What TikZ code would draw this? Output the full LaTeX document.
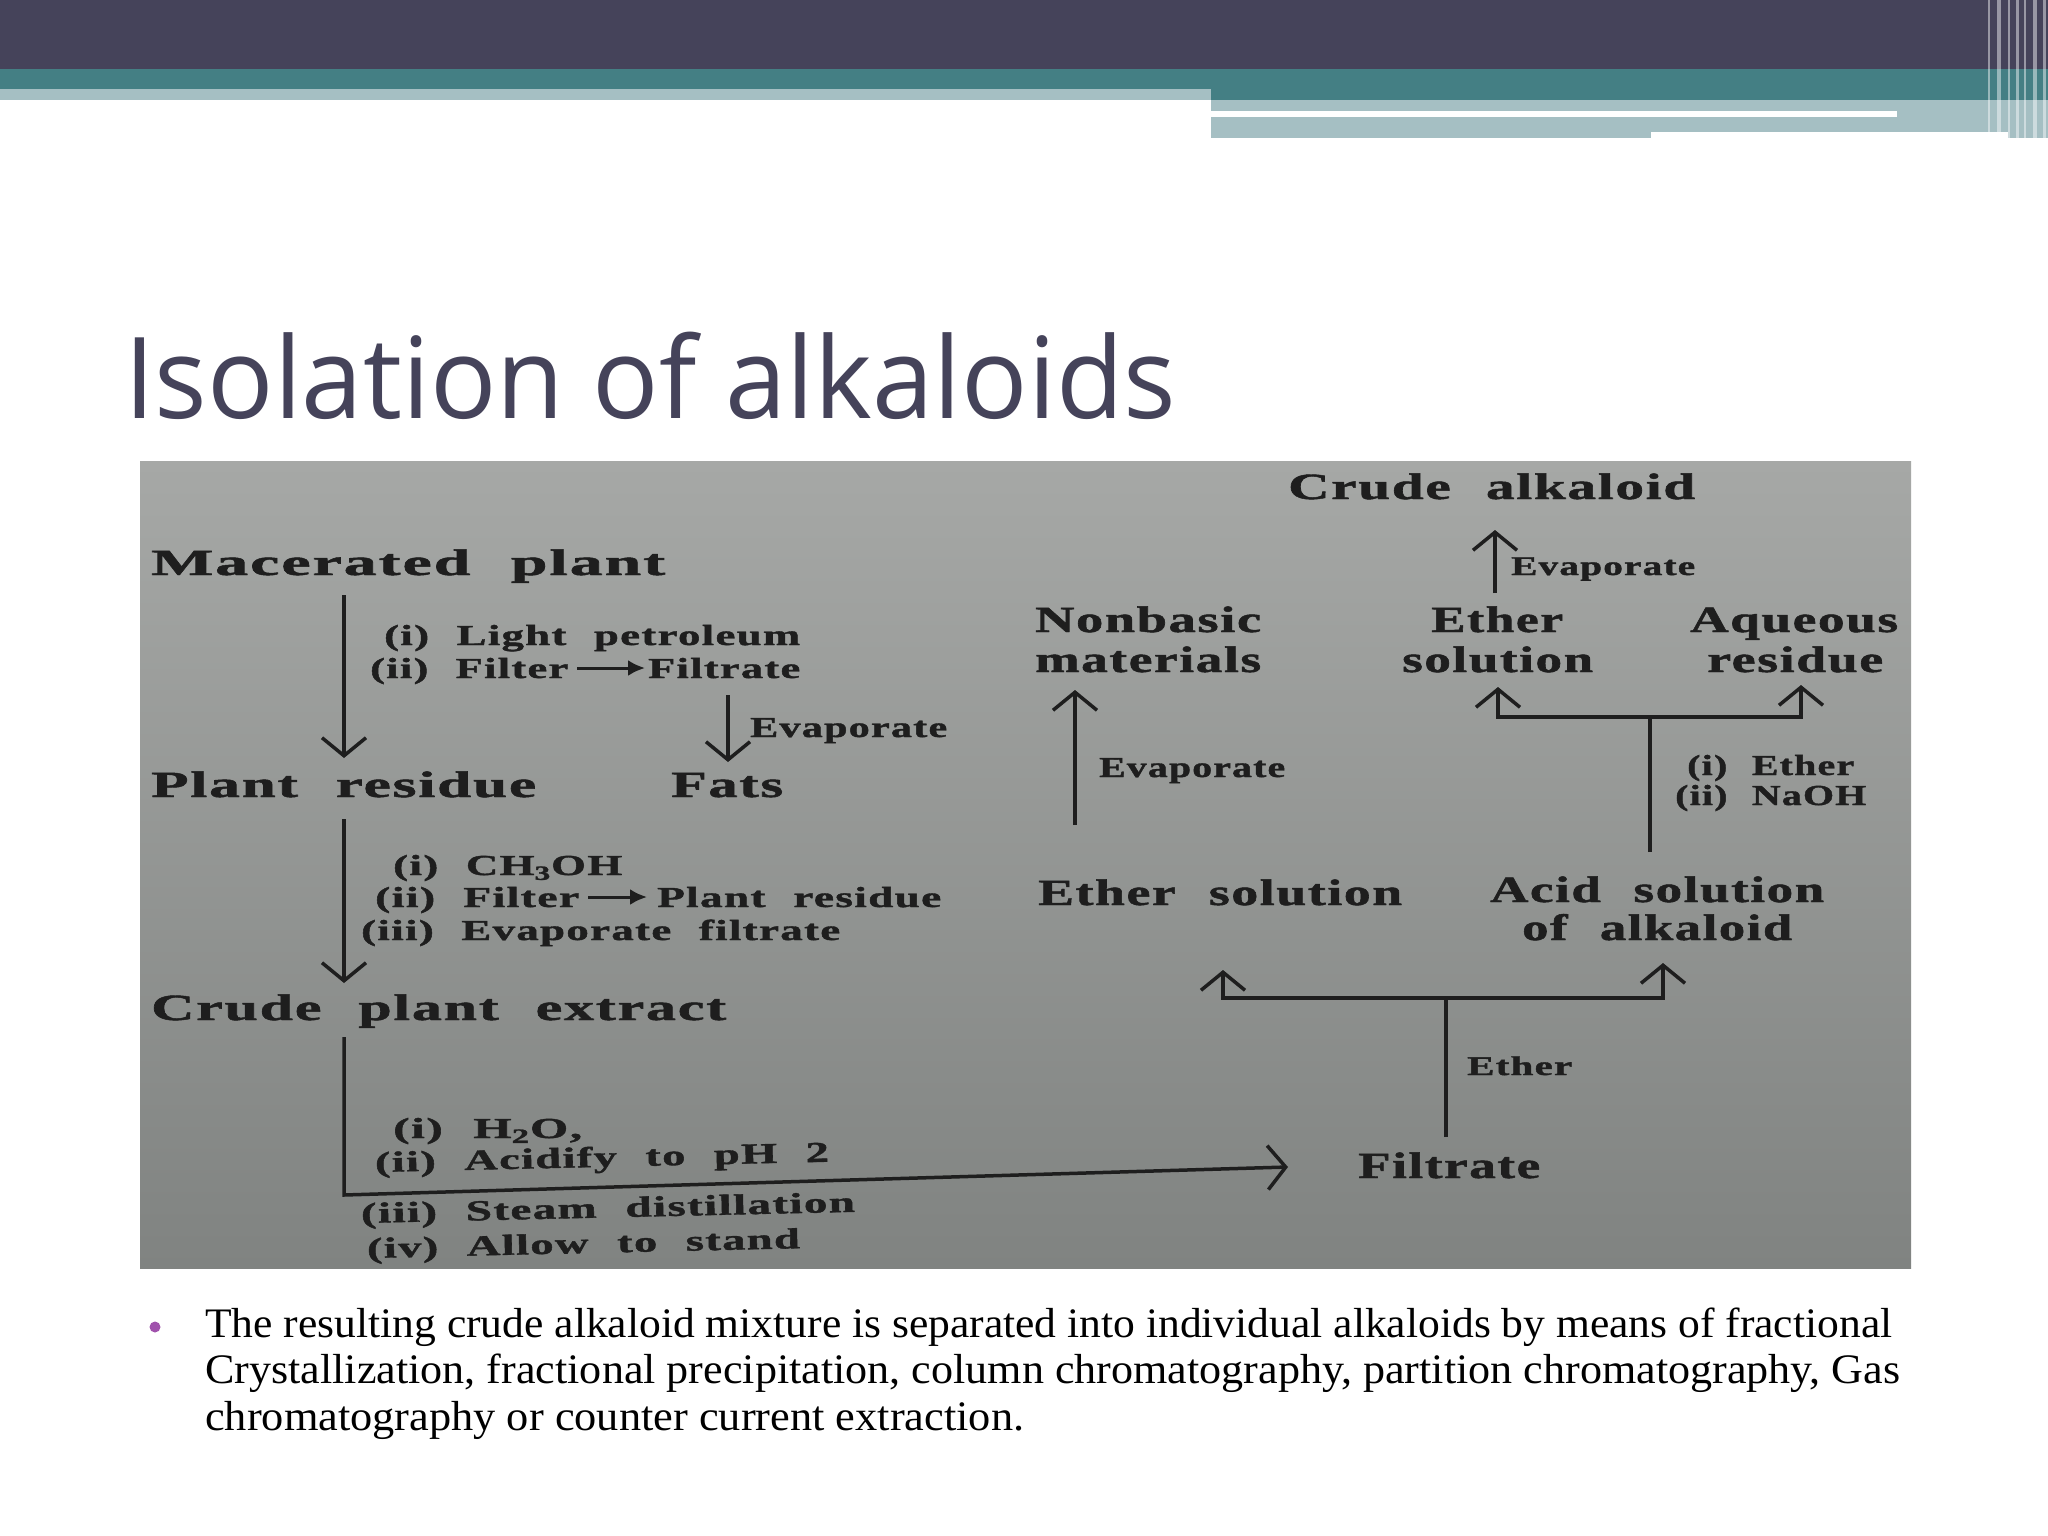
\documentclass[tikz,border=0pt]{standalone}
\usepackage{fontspec}
\usepackage{graphicx}
\usetikzlibrary{arrows.meta,calc}
\setmainfont{Liberation Serif}
\newfontfamily\titlefont{Open Sans}
\newfontfamily\printfont[LetterSpace=3,WordSpace=2.2,Ligatures=NoCommon,BoldFeatures={FakeBold=1.2}]{Liberation Serif}
\newcommand\fitw[2]{\resizebox{#1pt}{\height}{#2}}
\definecolor{hdark}{RGB}{69,67,90}
\definecolor{hteal}{RGB}{68,127,132}
\definecolor{hlight}{RGB}{165,191,195}
\definecolor{ink}{RGB}{30,30,30}
\definecolor{bulletc}{RGB}{160,82,172}
\definecolor{phototop}{RGB}{166,168,166}
\definecolor{photobot}{RGB}{128,131,129}
\tikzset{
  big/.style={anchor=base west, inner sep=0pt, text=ink, font=\printfont\bfseries\fontsize{37}{40}\selectfont},
  small/.style={anchor=base west, inner sep=0pt, text=ink, font=\printfont\bfseries\fontsize{29}{32}\selectfont},
  tiny/.style={anchor=base west, inner sep=0pt, text=ink, font=\printfont\bfseries\fontsize{27}{30}\selectfont},
  conn/.style={draw=ink, line width=3.5pt},
  arr/.style={conn, -{Straight Barb[length=18pt,width=44pt]}},
  sarr/.style={draw=ink, line width=3pt, -{Latex[length=17pt,width=16pt]}},
  body/.style={anchor=base west, inner sep=0pt, text=black, font=\fontsize{42}{47}\selectfont},
}
\begin{document}
\begin{tikzpicture}[x=1pt,y=-1pt]
\useasboundingbox (0,0) rectangle (2048,1536);
\fill[white] (0,0) rectangle (2048,1536);
% header bands
\fill[hdark] (0,0) rectangle (2048,69);
\fill[hteal] (0,69) rectangle (2048,100);
\fill[hlight] (0,89) rectangle (1211,100);
\fill[hlight] (1211,100) rectangle (2048,138);
\fill[white] (1211,111) rectangle (1897,117);
\fill[white] (1651,132) rectangle (2008,138);
\foreach \sx/\sw in {1988/2,1997/4,2008/2,2016/3,2024/2,2033/4,2043/3}
  \fill[white,opacity=0.45] (\sx,0) rectangle (\sx+\sw,138);
% title
\node[anchor=base west, inner sep=0pt, text=hdark, font=\titlefont\fontsize{113}{130}\selectfont] (title) at (124,418) {\fitw{1052}{Isolation of alkaloids}};
% photo background
\shade[top color=phototop, bottom color=photobot] (140,461) rectangle (1911,1268);
% big labels
\node[big] (crude) at (1288,499) {\fitw{407}{Crude alkaloid}};
\node[big] (mac) at (151,575) {\fitw{514}{Macerated plant}};
\node[big] (pres) at (151,797) {\fitw{385}{Plant residue}};
\node[big] (fats) at (671,797) {\fitw{112}{Fats}};
\node[big] (cpe) at (151,1020) {\fitw{575}{Crude plant extract}};
\node[big] (filtrate) at (1358,1178) {\fitw{182}{Filtrate}};
\node[big] (ethsol) at (1038,905) {\fitw{364}{Ether solution}};
\node[big] (acid1) at (1490,902) {\fitw{334}{Acid solution}};
\node[big] (acid2) at (1522,940) {\fitw{270}{of alkaloid}};
\node[big] (nonb1) at (1035,632) {\fitw{226}{Nonbasic}};
\node[big] (nonb2) at (1035,672) {\fitw{226}{materials}};
\node[big] (eth1) at (1431,632) {\fitw{132}{Ether}};
\node[big] (eth2) at (1402,672) {\fitw{191}{solution}};
\node[big] (aq1) at (1690,632) {\fitw{208}{Aqueous}};
\node[big] (aq2) at (1707,672) {\fitw{176}{residue}};
% small labels
\node[small] (l1) at (384,645) {\fitw{416}{(i) Light petroleum}};
\node[small] (l2a) at (370,678) {\fitw{198}{(ii) Filter}};
\node[small] (l2b) at (648,678) {\fitw{152}{Filtrate}};
\node[small] (ev1) at (750,737) {\fitw{197}{Evaporate}};
\node[small] (m1) at (393,875) {\fitw{229}{(i) CH\textsubscript{3}OH}};
\node[small] (m2a) at (375,907) {\fitw{204}{(ii) Filter}};
\node[small] (m2b) at (657,907) {\fitw{284}{Plant residue}};
\node[small] (m3) at (361,940) {\fitw{479}{(iii) Evaporate filtrate}};
\node[small] (b1) at (393,1138) {\fitw{189}{(i) H\textsubscript{2}O,}};
\node[small, rotate=1.3] (b2) at (375,1172) {\fitw{454}{(ii) Acidify to pH 2}};
\node[small, rotate=1.3] (b3) at (361,1223) {\fitw{494}{(iii) Steam distillation}};
\node[small, rotate=1.3] (b4) at (367,1258) {\fitw{433}{(iv) Allow to stand}};
\node[small] (ev2) at (1099,777) {\fitw{186}{Evaporate}};
\node[small] (ne1) at (1687,775) {\fitw{167}{(i) Ether}};
\node[small] (ne2) at (1675,805) {\fitw{191}{(ii) NaOH}};
\node[tiny] (ev3) at (1511,575) {\fitw{184}{Evaporate}};
\node[tiny] (eth) at (1467,1075) {\fitw{105}{Ether}};
% connectors: left column
\draw[arr] ($(mac.base west)+(193,20)$) -- ($(pres.base west)+(193,-39)$);
\draw[arr] ($(pres.base west)+(193,22)$) -- ($(cpe.base west)+(193,-37)$);
\coordinate (bend) at (344,1195);
\draw[arr, line join=miter] ($(cpe.base west)+(193,17)$) -- (bend) -- ($(filtrate.base west)+(-70,-11)$);
\draw[sarr] ($(l2a.base east)+(9,-10)$) -- ($(l2b.base west)+(-3,-10)$);
\draw[sarr] ($(m2a.base east)+(9,-10)$) -- ($(m2b.base west)+(-10,-10)$);
\draw[arr] ($(l2b.base west)+(80,17)$) -- ($(fats.base west)+(57,-35)$);
% right side
\coordinate (j1) at (1446,998);
\draw[conn] ($(filtrate.base west)+(88,-41)$) -- (j1);
\draw[arr] (j1) -| ($(ethsol.base west)+(185,65)$);
\draw[arr] (j1) -| ($(acid2.base west)+(141,23)$);
\draw[arr] ($(ethsol.base west)+(37,-80)$) -- ($(nonb2.base west)+(40,18)$);
\coordinate (j2) at (1650,717);
\draw[conn] ($(acid1.base west)+(160,-50)$) -- (j2);
\draw[arr] (j2) -| ($(eth2.base west)+(96,15)$);
\draw[arr] (j2) -| ($(aq2.base west)+(94,13)$);
\draw[arr] ($(eth1.base west)+(64,-39)$) -- ($(crude.base west)+(207,31)$);
% bullet text
\fill[bulletc] (155,1327) circle (5.5pt);
\node[body] (t1) at (205,1337) {\fitw{1687}{The resulting crude alkaloid mixture is separated into individual alkaloids by means of fractional}};
\node[body] (t2) at (205,1383) {\fitw{1695}{Crystallization, fractional precipitation, column chromatography, partition chromatography, Gas}};
\node[body] (t3) at (205,1430) {\fitw{819}{chromatography or counter current extraction.}};
\end{tikzpicture}
\end{document}
